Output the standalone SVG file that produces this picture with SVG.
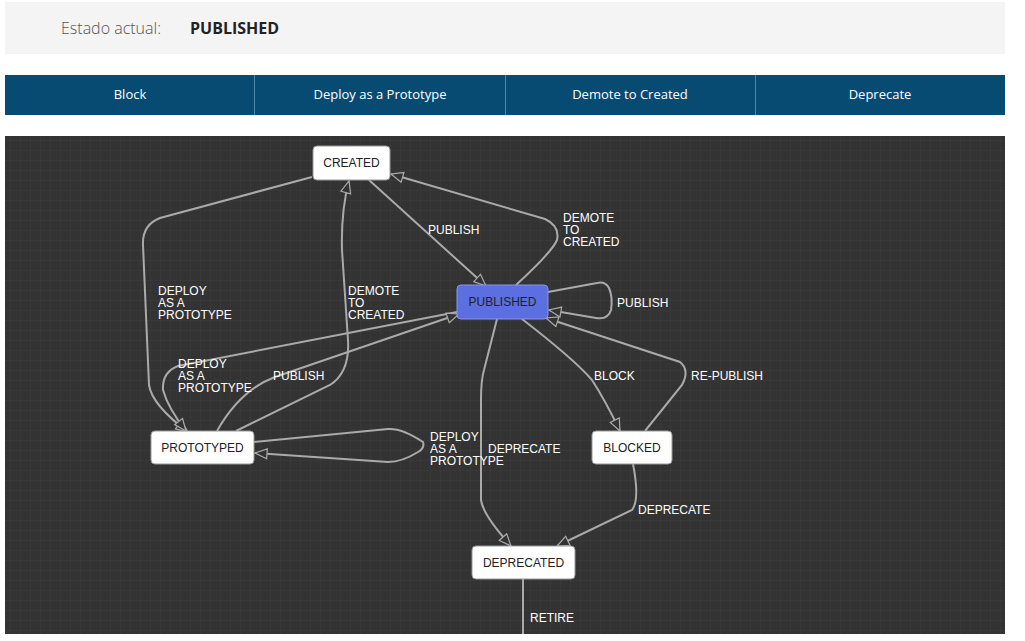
<svg xmlns="http://www.w3.org/2000/svg" width="1025" height="641" viewBox="0 0 1025 641">
<style>
.hdr{font-family:"Open Sans",sans-serif;font-size:16px}
.btn{font-family:"Open Sans",sans-serif;font-size:13px;fill:#fff;text-anchor:middle}
.node rect{fill:#fff;stroke:#999;stroke-width:1}
.node text{font-family:"Liberation Sans",Arial,sans-serif;font-size:12px;fill:#222;text-anchor:middle}
.e{fill:none;stroke:#aaa;stroke-width:2}
.lbl{font-family:"Liberation Sans",Arial,sans-serif;font-size:12px;fill:#fff}
</style>
<defs>
<marker id="a" markerUnits="userSpaceOnUse" markerWidth="16" markerHeight="14" refX="13" refY="6" orient="auto">
<path d="M1,1 L13,6 L1,11 z" fill="#333" stroke="#aaa" stroke-width="1.2"/>
</marker>
<pattern id="g" width="10" height="10" patternUnits="userSpaceOnUse">
<path d="M10,0 L0,0 0,10" fill="none" stroke="#3d3d3d" stroke-width="1"/>
</pattern>
</defs>
<rect width="1025" height="641" fill="#fff"/>
<rect x="5" y="2" width="1000" height="52" fill="#f4f4f4"/>
<text class="hdr" x="61" y="34" fill="#555" font-weight="300">Estado actual:</text>
<text class="hdr" x="190" y="34" fill="#222" font-weight="bold">PUBLISHED</text>
<rect x="5" y="75" width="1000" height="40" fill="#074a72"/>
<g stroke="#4d88ad" stroke-width="1"><line x1="254.5" y1="75" x2="254.5" y2="115"/><line x1="505.5" y1="75" x2="505.5" y2="115"/><line x1="755.5" y1="75" x2="755.5" y2="115"/></g>
<text class="btn" x="130" y="99">Block</text>
<text class="btn" x="380" y="99">Deploy as a Prototype</text>
<text class="btn" x="630" y="99">Demote to Created</text>
<text class="btn" x="880" y="99">Deprecate</text>
<rect x="5" y="136" width="1000" height="498" fill="#333"/>
<rect x="5" y="136" width="1000" height="498" fill="url(#g)"/>
<g id="connectors">
<path class="e" marker-end="url(#a)" d="M312,177 L160,218 Q142,225 143,245 L149,385 Q152,405 188,432"/>
<path class="e" marker-end="url(#a)" d="M369,180 L486,286"/>
<path class="e" marker-end="url(#a)" d="M516,285 Q552,252 557,240 Q560,226 545,219 L391,174"/>
<path class="e" marker-end="url(#a)" d="M236,431 L330,385 Q350,372 348,340 L342,250 Q341,210 349,181"/>
<path class="e" marker-end="url(#a)" d="M457,312 L178,366 Q162,372 163,390 Q168,408 186,431"/>
<path class="e" marker-end="url(#a)" d="M217,431 Q240,390 275,377 L459,314"/>
<path class="e" marker-end="url(#a)" d="M254,442 L388,429 Q402,428 423,442 Q425,448 418,452 Q402,462 388,462 L255,453"/>
<path class="e" marker-end="url(#a)" d="M548,292 L597,283 Q605,281 609,288 Q613,297 611,310 Q608,320 596,318 L549,310"/>
<path class="e" marker-end="url(#a)" d="M522,319 Q575,360 592,380 Q605,400 620,431"/>
<path class="e" marker-end="url(#a)" d="M645,431 L682,385 Q690,370 680,362 L546,318"/>
<path class="e" marker-end="url(#a)" d="M497,319 L484,370 Q481,380 481,400 L481,500 Q483,515 511,546"/>
<path class="e" marker-end="url(#a)" d="M633,464 Q640,500 632,510 L557,546"/>
<path class="e" d="M523,579 L523,634"/>
</g>
<g class="lbl">
<text x="158" y="295">DEPLOY</text><text x="158" y="307">AS A</text><text x="158" y="319">PROTOTYPE</text>
<text x="428" y="234">PUBLISH</text>
<text x="563" y="222">DEMOTE</text><text x="563" y="234">TO</text><text x="563" y="246">CREATED</text>
<text x="348" y="295">DEMOTE</text><text x="348" y="307">TO</text><text x="348" y="319">CREATED</text>
<text x="178" y="368">DEPLOY</text><text x="178" y="380">AS A</text><text x="178" y="392">PROTOTYPE</text>
<text x="273" y="380">PUBLISH</text>
<text x="430" y="441">DEPLOY</text><text x="430" y="453">AS A</text><text x="430" y="465">PROTOTYPE</text>
<text x="488" y="453">DEPRECATE</text>
<text x="617" y="307">PUBLISH</text>
<text x="594" y="380">BLOCK</text>
<text x="691" y="380">RE-PUBLISH</text>
<text x="638" y="514">DEPRECATE</text>
<text x="530" y="622">RETIRE</text>
</g>
<g id="n-created" class="node"><rect x="313" y="146" width="77" height="34" rx="4"/><text x="351.5" y="167">CREATED</text></g>
<g id="n-published" class="node"><rect x="457" y="285" width="91" height="34" rx="4" style="fill:#5b6fe0;stroke:#8a96e8"/><text x="502.5" y="306">PUBLISHED</text></g>
<g id="n-prototyped" class="node"><rect x="151" y="431" width="103" height="33" rx="4"/><text x="202.5" y="452">PROTOTYPED</text></g>
<g id="n-blocked" class="node"><rect x="592" y="431" width="80" height="33" rx="4"/><text x="632" y="452">BLOCKED</text></g>
<g id="n-deprecated" class="node"><rect x="472" y="546" width="103" height="33" rx="4"/><text x="523.5" y="567">DEPRECATED</text></g>
</svg>
